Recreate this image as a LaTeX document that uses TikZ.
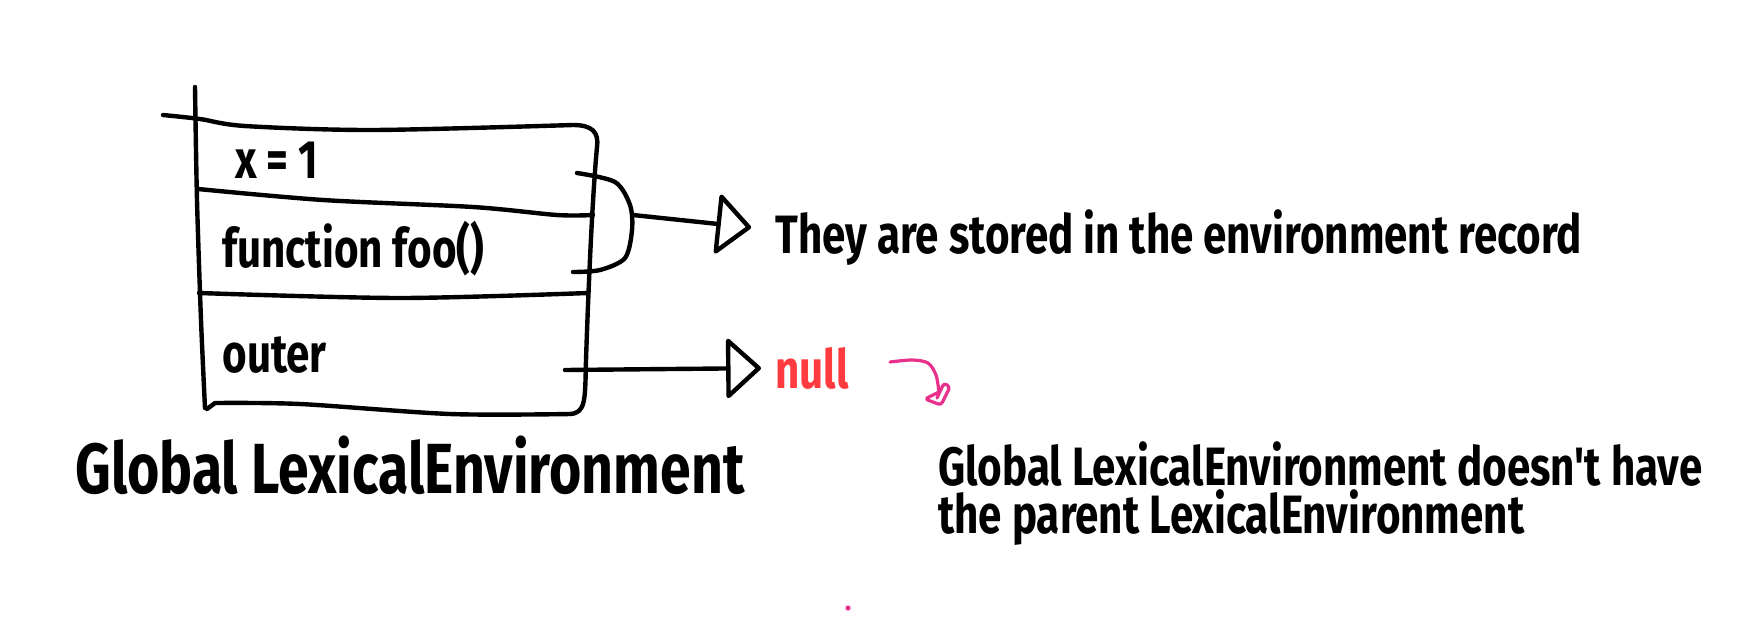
\documentclass[tikz,border=0pt]{standalone}
\usepackage{fontspec}
\usetikzlibrary{arrows.meta}
\newfontfamily\sketchfont[FakeStretch=0.78]{Fira Sans}
\definecolor{nullred}{HTML}{FF3B3F}
\definecolor{notepink}{HTML}{E8308C}

\tikzset{
  sketch/.style={line width=2.2pt, line cap=round, line join=round},
  pointer/.style={sketch, -{Triangle[open, round, length=18pt, width=32pt]}},
  slot/.style={anchor=base west, inner sep=0pt, font=\sketchfont\bfseries\fontsize{27}{30}\selectfont},
  remark/.style={anchor=base west, inner sep=0pt, align=left, font=\sketchfont\bfseries\fontsize{27}{24}\selectfont},
}

\begin{document}
\begin{tikzpicture}[x=0.5pt, y=-0.5pt]
      \useasboundingbox (0,0) rectangle (1754,622);
      % the record box, drawn by hand
      \draw[sketch] plot[smooth] coordinates {(195,87) (197,200) (201,320) (205,408)};
      \draw[sketch] plot[smooth] coordinates {(163,115) (200,119) (245,126) (373,130) (573,125)}
        .. controls (592,125) and (599,132) .. (597,147)
        .. controls (592,200) and (588,300) .. (586,360)
        .. controls (585,400) and (586,413) .. (570,414);
      \draw[sketch] plot[smooth] coordinates {(570,414) (450,414) (300,404) (215,403)} -- (207,409);
      \draw[sketch] plot[smooth] coordinates {(198,189) (323,200) (473,207) (557,215) (593,215)};
      \draw[sketch] plot[smooth] coordinates {(199,293) (400,298) (588,293)};
      % bracket over the two bindings
      \draw[sketch] plot[smooth] coordinates {(577,173) (615,182) (630,205) (632,230) (625,258) (600,270) (573,272)};
      \coordinate (bracetip) at (633,215);
      \coordinate (outerstub) at (565,370);

      \node [slot] (xval) at (235,178) {x = 1};
      \node [slot] (foodecl) at (222,267) {function foo()};
      \node [slot] (outerref) at (222,372) {outer};
      \node [slot] (stored) at (775,253) {They are stored in the environment record};
      \node [slot, text=nullred] (nullval) at (775,388) {null};
      \node [anchor=base west, inner sep=0pt, font=\sketchfont\bfseries\fontsize{35.5}{40}\selectfont] (globaltitle) at (75,493) {Global LexicalEnvironment};
      \node [remark] (parentnote) at (938,533) {Global LexicalEnvironment doesn't have\\the parent LexicalEnvironment};

      \draw[pointer, shorten >=12pt] (bracetip) -- ([yshift=11.5pt]stored.base west);
      \draw[pointer, shorten >=7pt] (outerstub) -- ([yshift=10pt]nullval.base west);

      % pink squiggle towards the note
      \coordinate (squigstart) at (890,362);
      \draw[sketch, notepink, line width=1.6pt] plot[smooth] coordinates {(squigstart) (912,360) (928,363) (936,375) (939,392)};
      \draw[sketch, notepink, line width=1.6pt, rounded corners=1.5pt] (939,392) -- (925,399) -- (941,405) -- (950,387) -- (944,383) -- (937,398);
      \fill[notepink] (848,608) circle (1.3pt);
    \end{tikzpicture}
\end{document}
